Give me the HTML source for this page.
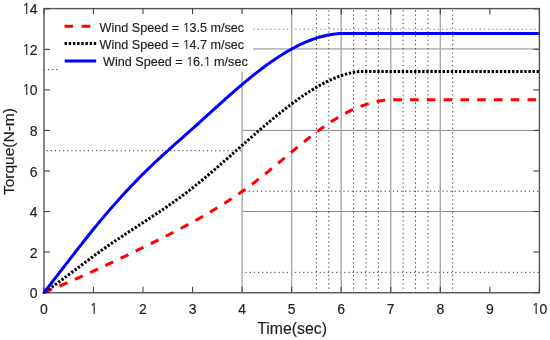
<!DOCTYPE html>
<html><head><meta charset="utf-8"><title>Torque vs Time</title><style>
html,body{margin:0;padding:0;background:#fff;width:550px;height:340px;overflow:hidden}
svg{display:block}
text{font-family:"Liberation Sans",Arial,Helvetica,sans-serif;fill:#1c1c1c;stroke:#1c1c1c;stroke-width:0.15px}
.o{font-family:"NanumGothic","Liberation Sans",sans-serif;letter-spacing:-0.05em}
</style></head><body>
<svg width="550" height="340" viewBox="0 0 550 340">
<rect width="550" height="340" fill="#fff"/>
<line x1="253.00" y1="29.20" x2="539.40" y2="29.20" stroke="#7a7a7a" stroke-width="1" stroke-dasharray="1.3 2.89" stroke-dashoffset="3.75"/>
<line x1="253.00" y1="48.95" x2="539.40" y2="48.95" stroke="#8c8c8c" stroke-width="1"/>
<line x1="44.00" y1="69.61" x2="58.50" y2="69.61" stroke="#404040" stroke-width="1" stroke-dasharray="1.3 2.85" stroke-dashoffset="0.25"/>
<line x1="242.10" y1="130.43" x2="539.40" y2="130.43" stroke="#8c8c8c" stroke-width="1"/>
<line x1="44.00" y1="150.70" x2="242.10" y2="150.70" stroke="#404040" stroke-width="1" stroke-dasharray="1.3 2.81" stroke-dashoffset="1.49"/>
<line x1="242.10" y1="191.24" x2="539.40" y2="191.24" stroke="#404040" stroke-width="1" stroke-dasharray="1.3 2.82" stroke-dashoffset="1.73"/>
<line x1="242.10" y1="211.51" x2="539.40" y2="211.51" stroke="#8c8c8c" stroke-width="1"/>
<line x1="242.10" y1="272.33" x2="539.40" y2="272.33" stroke="#404040" stroke-width="1" stroke-dasharray="1.3 2.81" stroke-dashoffset="0.63"/>
<line x1="242.10" y1="72.00" x2="242.10" y2="292.75" stroke="#a8a8a8" stroke-width="1.4"/>
<line x1="291.65" y1="8.60" x2="291.65" y2="292.75" stroke="#a8a8a8" stroke-width="1.4"/>
<line x1="341.20" y1="8.60" x2="341.20" y2="292.75" stroke="#a8a8a8" stroke-width="1.4"/>
<line x1="390.75" y1="8.60" x2="390.75" y2="292.75" stroke="#a8a8a8" stroke-width="1.4"/>
<line x1="440.30" y1="8.60" x2="440.30" y2="292.75" stroke="#a8a8a8" stroke-width="1.4"/>
<line x1="316.42" y1="8.60" x2="316.42" y2="292.75" stroke="#404040" stroke-width="1" stroke-dasharray="1.3 2.9" stroke-dashoffset="2.55"/>
<line x1="328.81" y1="8.60" x2="328.81" y2="292.75" stroke="#404040" stroke-width="1" stroke-dasharray="1.3 2.9" stroke-dashoffset="2.55"/>
<line x1="353.59" y1="8.60" x2="353.59" y2="292.75" stroke="#404040" stroke-width="1" stroke-dasharray="1.3 2.9" stroke-dashoffset="2.55"/>
<line x1="365.97" y1="8.60" x2="365.97" y2="292.75" stroke="#404040" stroke-width="1" stroke-dasharray="1.3 2.9" stroke-dashoffset="2.55"/>
<line x1="378.36" y1="8.60" x2="378.36" y2="292.75" stroke="#404040" stroke-width="1" stroke-dasharray="1.3 2.9" stroke-dashoffset="2.55"/>
<line x1="403.14" y1="8.60" x2="403.14" y2="292.75" stroke="#404040" stroke-width="1" stroke-dasharray="1.3 2.9" stroke-dashoffset="2.55"/>
<line x1="415.52" y1="8.60" x2="415.52" y2="292.75" stroke="#404040" stroke-width="1" stroke-dasharray="1.3 2.9" stroke-dashoffset="2.55"/>
<line x1="427.91" y1="8.60" x2="427.91" y2="292.75" stroke="#404040" stroke-width="1" stroke-dasharray="1.3 2.9" stroke-dashoffset="2.55"/>
<line x1="452.69" y1="8.60" x2="452.69" y2="292.75" stroke="#404040" stroke-width="1" stroke-dasharray="1.3 2.9" stroke-dashoffset="2.55"/>
<rect x="44.0" y="8.6" width="495.4" height="284.15" fill="none" stroke="#555555" stroke-width="1.4"/>
<line x1="43.90" y1="292.75" x2="43.90" y2="286.75" stroke="#444444" stroke-width="1.1"/>
<line x1="43.90" y1="8.6" x2="43.90" y2="14.6" stroke="#444444" stroke-width="1.1"/>
<line x1="93.45" y1="292.75" x2="93.45" y2="286.75" stroke="#444444" stroke-width="1.1"/>
<line x1="93.45" y1="8.6" x2="93.45" y2="14.6" stroke="#444444" stroke-width="1.1"/>
<line x1="143.00" y1="292.75" x2="143.00" y2="286.75" stroke="#444444" stroke-width="1.1"/>
<line x1="143.00" y1="8.6" x2="143.00" y2="14.6" stroke="#444444" stroke-width="1.1"/>
<line x1="192.55" y1="292.75" x2="192.55" y2="286.75" stroke="#444444" stroke-width="1.1"/>
<line x1="192.55" y1="8.6" x2="192.55" y2="14.6" stroke="#444444" stroke-width="1.1"/>
<line x1="242.10" y1="292.75" x2="242.10" y2="286.75" stroke="#444444" stroke-width="1.1"/>
<line x1="242.10" y1="8.6" x2="242.10" y2="14.6" stroke="#444444" stroke-width="1.1"/>
<line x1="291.65" y1="292.75" x2="291.65" y2="286.75" stroke="#444444" stroke-width="1.1"/>
<line x1="291.65" y1="8.6" x2="291.65" y2="14.6" stroke="#444444" stroke-width="1.1"/>
<line x1="341.20" y1="292.75" x2="341.20" y2="286.75" stroke="#444444" stroke-width="1.1"/>
<line x1="341.20" y1="8.6" x2="341.20" y2="14.6" stroke="#444444" stroke-width="1.1"/>
<line x1="390.75" y1="292.75" x2="390.75" y2="286.75" stroke="#444444" stroke-width="1.1"/>
<line x1="390.75" y1="8.6" x2="390.75" y2="14.6" stroke="#444444" stroke-width="1.1"/>
<line x1="440.30" y1="292.75" x2="440.30" y2="286.75" stroke="#444444" stroke-width="1.1"/>
<line x1="440.30" y1="8.6" x2="440.30" y2="14.6" stroke="#444444" stroke-width="1.1"/>
<line x1="489.85" y1="292.75" x2="489.85" y2="286.75" stroke="#444444" stroke-width="1.1"/>
<line x1="489.85" y1="8.6" x2="489.85" y2="14.6" stroke="#444444" stroke-width="1.1"/>
<line x1="539.40" y1="292.75" x2="539.40" y2="286.75" stroke="#444444" stroke-width="1.1"/>
<line x1="539.40" y1="8.6" x2="539.40" y2="14.6" stroke="#444444" stroke-width="1.1"/>
<line x1="44.0" y1="292.60" x2="50.0" y2="292.60" stroke="#444444" stroke-width="1.1"/>
<line x1="539.4" y1="292.60" x2="533.4" y2="292.60" stroke="#444444" stroke-width="1.1"/>
<line x1="44.0" y1="252.06" x2="50.0" y2="252.06" stroke="#444444" stroke-width="1.1"/>
<line x1="539.4" y1="252.06" x2="533.4" y2="252.06" stroke="#444444" stroke-width="1.1"/>
<line x1="44.0" y1="211.51" x2="50.0" y2="211.51" stroke="#444444" stroke-width="1.1"/>
<line x1="539.4" y1="211.51" x2="533.4" y2="211.51" stroke="#444444" stroke-width="1.1"/>
<line x1="44.0" y1="170.97" x2="50.0" y2="170.97" stroke="#444444" stroke-width="1.1"/>
<line x1="539.4" y1="170.97" x2="533.4" y2="170.97" stroke="#444444" stroke-width="1.1"/>
<line x1="44.0" y1="130.43" x2="50.0" y2="130.43" stroke="#444444" stroke-width="1.1"/>
<line x1="539.4" y1="130.43" x2="533.4" y2="130.43" stroke="#444444" stroke-width="1.1"/>
<line x1="44.0" y1="89.89" x2="50.0" y2="89.89" stroke="#444444" stroke-width="1.1"/>
<line x1="539.4" y1="89.89" x2="533.4" y2="89.89" stroke="#444444" stroke-width="1.1"/>
<line x1="44.0" y1="49.34" x2="50.0" y2="49.34" stroke="#444444" stroke-width="1.1"/>
<line x1="539.4" y1="49.34" x2="533.4" y2="49.34" stroke="#444444" stroke-width="1.1"/>
<line x1="44.0" y1="8.80" x2="50.0" y2="8.80" stroke="#444444" stroke-width="1.1"/>
<line x1="539.4" y1="8.80" x2="533.4" y2="8.80" stroke="#444444" stroke-width="1.1"/>
<path d="M44.00,292.50 L45.00,292.09 L46.00,291.69 L47.00,291.28 L48.00,290.87 L49.00,290.45 L50.00,290.04 L51.00,289.63 L52.00,289.21 L53.00,288.80 L54.00,288.38 L55.00,287.96 L56.00,287.54 L57.00,287.12 L58.00,286.70 L59.00,286.27 L60.00,285.85 L61.00,285.43 L62.00,285.00 L63.00,284.57 L64.00,284.14 L65.00,283.71 L66.00,283.28 L67.00,282.85 L68.00,282.42 L69.00,281.99 L70.00,281.55 L71.00,281.12 L72.00,280.68 L73.00,280.24 L74.00,279.80 L75.00,279.36 L76.00,278.92 L77.00,278.48 L78.00,278.04 L79.00,277.60 L80.00,277.15 L81.00,276.71 L82.00,276.26 L83.00,275.81 L84.00,275.36 L85.00,274.91 L86.00,274.46 L87.00,274.01 L88.00,273.56 L89.00,273.11 L90.00,272.66 L91.00,272.20 L92.00,271.75 L93.00,271.29 L94.00,270.83 L95.00,270.37 L96.00,269.91 L97.00,269.46 L98.00,268.99 L99.00,268.53 L100.00,268.07 L101.00,267.61 L102.00,267.14 L103.00,266.68 L104.00,266.21 L105.00,265.75 L106.00,265.28 L107.00,264.81 L108.00,264.34 L109.00,263.87 L110.00,263.40 L111.00,262.93 L112.00,262.46 L113.00,261.99 L114.00,261.52 L115.00,261.04 L116.00,260.57 L117.00,260.09 L118.00,259.61 L119.00,259.14 L120.00,258.66 L121.00,258.18 L122.00,257.70 L123.00,257.22 L124.00,256.74 L125.00,256.26 L126.00,255.78 L127.00,255.30 L128.00,254.82 L129.00,254.33 L130.00,253.85 L131.00,253.36 L132.00,252.88 L133.00,252.39 L134.00,251.90 L135.00,251.42 L136.00,250.93 L137.00,250.44 L138.00,249.95 L139.00,249.46 L140.00,248.97 L141.00,248.48 L142.00,247.99 L143.00,247.50 L144.00,247.01 L145.00,246.51 L146.00,246.02 L147.00,245.53 L148.00,245.03 L149.00,244.54 L150.00,244.04 L151.00,243.54 L152.00,243.05 L153.00,242.55 L154.00,242.05 L155.00,241.56 L156.00,241.06 L157.00,240.56 L158.00,240.06 L159.00,239.56 L160.00,239.06 L161.00,238.55 L162.00,238.05 L163.00,237.55 L164.00,237.05 L165.00,236.54 L166.00,236.03 L167.00,235.53 L168.00,235.02 L169.00,234.51 L170.00,234.00 L171.00,233.49 L172.00,232.98 L173.00,232.46 L174.00,231.95 L175.00,231.43 L176.00,230.91 L177.00,230.39 L178.00,229.87 L179.00,229.35 L180.00,228.83 L181.00,228.30 L182.00,227.77 L183.00,227.25 L184.00,226.72 L185.00,226.18 L186.00,225.65 L187.00,225.11 L188.00,224.58 L189.00,224.04 L190.00,223.50 L191.00,222.95 L192.00,222.41 L193.00,221.86 L194.00,221.31 L195.00,220.76 L196.00,220.20 L197.00,219.64 L198.00,219.09 L199.00,218.52 L200.00,217.96 L201.00,217.39 L202.00,216.83 L203.00,216.25 L204.00,215.68 L205.00,215.10 L206.00,214.52 L207.00,213.94 L208.00,213.36 L209.00,212.77 L210.00,212.18 L211.00,211.59 L212.00,210.99 L213.00,210.39 L214.00,209.79 L215.00,209.18 L216.00,208.58 L217.00,207.96 L218.00,207.35 L219.00,206.73 L220.00,206.11 L221.00,205.49 L222.00,204.86 L223.00,204.23 L224.00,203.59 L225.00,202.95 L226.00,202.31 L227.00,201.67 L228.00,201.02 L229.00,200.36 L230.00,199.71 L231.00,199.05 L232.00,198.38 L233.00,197.72 L234.00,197.04 L235.00,196.37 L236.00,195.69 L237.00,195.00 L238.00,194.32 L239.00,193.62 L240.00,192.93 L241.00,192.23 L242.00,191.52 L243.00,190.81 L244.00,190.10 L245.00,189.38 L246.00,188.66 L247.00,187.94 L248.00,187.21 L249.00,186.47 L250.00,185.73 L251.00,184.99 L252.00,184.24 L253.00,183.48 L254.00,182.72 L255.00,181.96 L256.00,181.19 L257.00,180.42 L258.00,179.64 L259.00,178.86 L260.00,178.07 L261.00,177.28 L262.00,176.49 L263.00,175.69 L264.00,174.89 L265.00,174.09 L266.00,173.28 L267.00,172.47 L268.00,171.66 L269.00,170.84 L270.00,170.02 L271.00,169.20 L272.00,168.38 L273.00,167.55 L274.00,166.73 L275.00,165.90 L276.00,165.07 L277.00,164.24 L278.00,163.41 L279.00,162.57 L280.00,161.74 L281.00,160.90 L282.00,160.07 L283.00,159.23 L284.00,158.39 L285.00,157.56 L286.00,156.72 L287.00,155.89 L288.00,155.05 L289.00,154.22 L290.00,153.38 L291.00,152.55 L292.00,151.72 L293.00,150.88 L294.00,150.06 L295.00,149.23 L296.00,148.40 L297.00,147.58 L298.00,146.75 L299.00,145.94 L300.00,145.12 L301.00,144.30 L302.00,143.49 L303.00,142.68 L304.00,141.87 L305.00,141.07 L306.00,140.27 L307.00,139.48 L308.00,138.68 L309.00,137.90 L310.00,137.11 L311.00,136.33 L312.00,135.55 L313.00,134.78 L314.00,134.02 L315.00,133.25 L316.00,132.50 L317.00,131.75 L318.00,131.00 L319.00,130.26 L320.00,129.52 L321.00,128.80 L322.00,128.07 L323.00,127.36 L324.00,126.64 L325.00,125.94 L326.00,125.24 L327.00,124.55 L328.00,123.87 L329.00,123.19 L330.00,122.52 L331.00,121.86 L332.00,121.21 L333.00,120.56 L334.00,119.92 L335.00,119.29 L336.00,118.67 L337.00,118.06 L338.00,117.45 L339.00,116.86 L340.00,116.27 L341.00,115.69 L342.00,115.12 L343.00,114.56 L344.00,114.01 L345.00,113.47 L346.00,112.94 L347.00,112.43 L348.00,111.92 L349.00,111.42 L350.00,110.93 L351.00,110.45 L352.00,109.98 L353.00,109.52 L354.00,109.08 L355.00,108.64 L356.00,108.21 L357.00,107.80 L358.00,107.39 L359.00,107.00 L360.00,106.61 L361.00,106.23 L362.00,105.87 L363.00,105.51 L364.00,105.16 L365.00,104.83 L366.00,104.50 L367.00,104.18 L368.00,103.88 L369.00,103.58 L370.00,103.29 L371.00,103.01 L372.00,102.74 L373.00,102.48 L374.00,102.23 L375.00,101.99 L376.00,101.76 L377.00,101.54 L378.00,101.32 L379.00,101.12 L380.00,100.92 L381.00,100.74 L382.00,100.56 L383.00,100.39 L384.00,100.23 L385.00,100.08 L386.00,99.94 L387.00,99.81 L388.00,99.80 L389.00,99.80 L390.00,99.80 L391.00,99.80 L392.00,99.80 L393.00,99.80 L394.00,99.80 L395.00,99.80 L396.00,99.80 L397.00,99.80 L398.00,99.80 L399.00,99.80 L400.00,99.80 L401.00,99.80 L402.00,99.80 L403.00,99.80 L404.00,99.80 L405.00,99.80 L406.00,99.80 L407.00,99.80 L408.00,99.80 L409.00,99.80 L410.00,99.80 L411.00,99.80 L412.00,99.80 L413.00,99.80 L414.00,99.80 L415.00,99.80 L416.00,99.80 L417.00,99.80 L418.00,99.80 L419.00,99.80 L420.00,99.80 L421.00,99.80 L422.00,99.80 L423.00,99.80 L424.00,99.80 L425.00,99.80 L426.00,99.80 L427.00,99.80 L428.00,99.80 L429.00,99.80 L430.00,99.80 L431.00,99.80 L432.00,99.80 L433.00,99.80 L434.00,99.80 L435.00,99.80 L436.00,99.80 L437.00,99.80 L438.00,99.80 L439.00,99.80 L440.00,99.80 L441.00,99.80 L442.00,99.80 L443.00,99.80 L444.00,99.80 L445.00,99.80 L446.00,99.80 L447.00,99.80 L448.00,99.80 L449.00,99.80 L450.00,99.80 L451.00,99.80 L452.00,99.80 L453.00,99.80 L454.00,99.80 L455.00,99.80 L456.00,99.80 L457.00,99.80 L458.00,99.80 L459.00,99.80 L460.00,99.80 L461.00,99.80 L462.00,99.80 L463.00,99.80 L464.00,99.80 L465.00,99.80 L466.00,99.80 L467.00,99.80 L468.00,99.80 L469.00,99.80 L470.00,99.80 L471.00,99.80 L472.00,99.80 L473.00,99.80 L474.00,99.80 L475.00,99.80 L476.00,99.80 L477.00,99.80 L478.00,99.80 L479.00,99.80 L480.00,99.80 L481.00,99.80 L482.00,99.80 L483.00,99.80 L484.00,99.80 L485.00,99.80 L486.00,99.80 L487.00,99.80 L488.00,99.80 L489.00,99.80 L490.00,99.80 L491.00,99.80 L492.00,99.80 L493.00,99.80 L494.00,99.80 L495.00,99.80 L496.00,99.80 L497.00,99.80 L498.00,99.80 L499.00,99.80 L500.00,99.80 L501.00,99.80 L502.00,99.80 L503.00,99.80 L504.00,99.80 L505.00,99.80 L506.00,99.80 L507.00,99.80 L508.00,99.80 L509.00,99.80 L510.00,99.80 L511.00,99.80 L512.00,99.80 L513.00,99.80 L514.00,99.80 L515.00,99.80 L516.00,99.80 L517.00,99.80 L518.00,99.80 L519.00,99.80 L520.00,99.80 L521.00,99.80 L522.00,99.80 L523.00,99.80 L524.00,99.80 L525.00,99.80 L526.00,99.80 L527.00,99.80 L528.00,99.80 L529.00,99.80 L530.00,99.80 L531.00,99.80 L532.00,99.80 L533.00,99.80 L534.00,99.80 L535.00,99.80 L536.00,99.80 L537.00,99.80 L538.00,99.80 L539.00,99.80 L539.40,99.80" fill="none" stroke="#ff0000" stroke-width="3" stroke-dasharray="8.6 8.18"/>
<path d="M44.00,292.50 L45.00,291.82 L46.00,291.14 L47.00,290.46 L48.00,289.76 L49.00,289.07 L50.00,288.37 L51.00,287.67 L52.00,286.96 L53.00,286.25 L54.00,285.54 L55.00,284.82 L56.00,284.10 L57.00,283.38 L58.00,282.65 L59.00,281.92 L60.00,281.19 L61.00,280.46 L62.00,279.72 L63.00,278.98 L64.00,278.24 L65.00,277.50 L66.00,276.76 L67.00,276.01 L68.00,275.26 L69.00,274.52 L70.00,273.77 L71.00,273.02 L72.00,272.26 L73.00,271.51 L74.00,270.76 L75.00,270.01 L76.00,269.25 L77.00,268.50 L78.00,267.75 L79.00,266.99 L80.00,266.24 L81.00,265.49 L82.00,264.74 L83.00,263.98 L84.00,263.23 L85.00,262.49 L86.00,261.74 L87.00,260.99 L88.00,260.24 L89.00,259.50 L90.00,258.76 L91.00,258.02 L92.00,257.28 L93.00,256.55 L94.00,255.81 L95.00,255.08 L96.00,254.35 L97.00,253.63 L98.00,252.91 L99.00,252.19 L100.00,251.47 L101.00,250.76 L102.00,250.05 L103.00,249.34 L104.00,248.64 L105.00,247.94 L106.00,247.24 L107.00,246.55 L108.00,245.85 L109.00,245.16 L110.00,244.48 L111.00,243.79 L112.00,243.11 L113.00,242.43 L114.00,241.76 L115.00,241.08 L116.00,240.41 L117.00,239.74 L118.00,239.07 L119.00,238.40 L120.00,237.73 L121.00,237.07 L122.00,236.41 L123.00,235.75 L124.00,235.08 L125.00,234.43 L126.00,233.77 L127.00,233.11 L128.00,232.46 L129.00,231.80 L130.00,231.15 L131.00,230.49 L132.00,229.84 L133.00,229.19 L134.00,228.54 L135.00,227.88 L136.00,227.23 L137.00,226.58 L138.00,225.93 L139.00,225.28 L140.00,224.63 L141.00,223.98 L142.00,223.32 L143.00,222.67 L144.00,222.02 L145.00,221.36 L146.00,220.71 L147.00,220.06 L148.00,219.40 L149.00,218.74 L150.00,218.08 L151.00,217.43 L152.00,216.77 L153.00,216.10 L154.00,215.44 L155.00,214.78 L156.00,214.11 L157.00,213.44 L158.00,212.77 L159.00,212.10 L160.00,211.43 L161.00,210.75 L162.00,210.08 L163.00,209.40 L164.00,208.72 L165.00,208.03 L166.00,207.35 L167.00,206.66 L168.00,205.96 L169.00,205.27 L170.00,204.57 L171.00,203.87 L172.00,203.17 L173.00,202.46 L174.00,201.75 L175.00,201.04 L176.00,200.32 L177.00,199.60 L178.00,198.88 L179.00,198.15 L180.00,197.42 L181.00,196.69 L182.00,195.95 L183.00,195.21 L184.00,194.46 L185.00,193.71 L186.00,192.95 L187.00,192.19 L188.00,191.43 L189.00,190.66 L190.00,189.89 L191.00,189.11 L192.00,188.33 L193.00,187.54 L194.00,186.75 L195.00,185.96 L196.00,185.16 L197.00,184.35 L198.00,183.54 L199.00,182.73 L200.00,181.92 L201.00,181.10 L202.00,180.27 L203.00,179.45 L204.00,178.62 L205.00,177.78 L206.00,176.95 L207.00,176.11 L208.00,175.26 L209.00,174.42 L210.00,173.57 L211.00,172.72 L212.00,171.86 L213.00,171.01 L214.00,170.15 L215.00,169.28 L216.00,168.42 L217.00,167.55 L218.00,166.69 L219.00,165.82 L220.00,164.94 L221.00,164.07 L222.00,163.20 L223.00,162.32 L224.00,161.44 L225.00,160.56 L226.00,159.68 L227.00,158.80 L228.00,157.91 L229.00,157.03 L230.00,156.14 L231.00,155.26 L232.00,154.37 L233.00,153.49 L234.00,152.60 L235.00,151.71 L236.00,150.82 L237.00,149.93 L238.00,149.04 L239.00,148.16 L240.00,147.27 L241.00,146.38 L242.00,145.49 L243.00,144.60 L244.00,143.72 L245.00,142.83 L246.00,141.94 L247.00,141.06 L248.00,140.17 L249.00,139.29 L250.00,138.41 L251.00,137.53 L252.00,136.65 L253.00,135.77 L254.00,134.89 L255.00,134.02 L256.00,133.15 L257.00,132.27 L258.00,131.40 L259.00,130.54 L260.00,129.67 L261.00,128.81 L262.00,127.95 L263.00,127.09 L264.00,126.23 L265.00,125.38 L266.00,124.53 L267.00,123.68 L268.00,122.83 L269.00,121.99 L270.00,121.15 L271.00,120.31 L272.00,119.48 L273.00,118.65 L274.00,117.83 L275.00,117.00 L276.00,116.18 L277.00,115.37 L278.00,114.56 L279.00,113.75 L280.00,112.95 L281.00,112.15 L282.00,111.35 L283.00,110.56 L284.00,109.78 L285.00,109.00 L286.00,108.22 L287.00,107.45 L288.00,106.68 L289.00,105.92 L290.00,105.16 L291.00,104.41 L292.00,103.66 L293.00,102.92 L294.00,102.18 L295.00,101.45 L296.00,100.73 L297.00,100.01 L298.00,99.29 L299.00,98.59 L300.00,97.88 L301.00,97.19 L302.00,96.50 L303.00,95.82 L304.00,95.14 L305.00,94.47 L306.00,93.81 L307.00,93.15 L308.00,92.50 L309.00,91.86 L310.00,91.22 L311.00,90.59 L312.00,89.97 L313.00,89.36 L314.00,88.75 L315.00,88.15 L316.00,87.56 L317.00,86.98 L318.00,86.40 L319.00,85.84 L320.00,85.28 L321.00,84.73 L322.00,84.19 L323.00,83.65 L324.00,83.13 L325.00,82.62 L326.00,82.11 L327.00,81.61 L328.00,81.13 L329.00,80.65 L330.00,80.18 L331.00,79.73 L332.00,79.28 L333.00,78.84 L334.00,78.42 L335.00,78.00 L336.00,77.59 L337.00,77.20 L338.00,76.82 L339.00,76.44 L340.00,76.08 L341.00,75.73 L342.00,75.39 L343.00,75.07 L344.00,74.75 L345.00,74.45 L346.00,74.15 L347.00,73.88 L348.00,73.61 L349.00,73.35 L350.00,73.11 L351.00,72.88 L352.00,72.67 L353.00,72.46 L354.00,72.27 L355.00,72.09 L356.00,71.93 L357.00,71.78 L358.00,71.64 L359.00,71.52 L360.00,71.41 L361.00,71.40 L362.00,71.40 L363.00,71.40 L364.00,71.40 L365.00,71.40 L366.00,71.40 L367.00,71.40 L368.00,71.40 L369.00,71.40 L370.00,71.40 L371.00,71.40 L372.00,71.40 L373.00,71.40 L374.00,71.40 L375.00,71.40 L376.00,71.40 L377.00,71.40 L378.00,71.40 L379.00,71.40 L380.00,71.40 L381.00,71.40 L382.00,71.40 L383.00,71.40 L384.00,71.40 L385.00,71.40 L386.00,71.40 L387.00,71.40 L388.00,71.40 L389.00,71.40 L390.00,71.40 L391.00,71.40 L392.00,71.40 L393.00,71.40 L394.00,71.40 L395.00,71.40 L396.00,71.40 L397.00,71.40 L398.00,71.40 L399.00,71.40 L400.00,71.40 L401.00,71.40 L402.00,71.40 L403.00,71.40 L404.00,71.40 L405.00,71.40 L406.00,71.40 L407.00,71.40 L408.00,71.40 L409.00,71.40 L410.00,71.40 L411.00,71.40 L412.00,71.40 L413.00,71.40 L414.00,71.40 L415.00,71.40 L416.00,71.40 L417.00,71.40 L418.00,71.40 L419.00,71.40 L420.00,71.40 L421.00,71.40 L422.00,71.40 L423.00,71.40 L424.00,71.40 L425.00,71.40 L426.00,71.40 L427.00,71.40 L428.00,71.40 L429.00,71.40 L430.00,71.40 L431.00,71.40 L432.00,71.40 L433.00,71.40 L434.00,71.40 L435.00,71.40 L436.00,71.40 L437.00,71.40 L438.00,71.40 L439.00,71.40 L440.00,71.40 L441.00,71.40 L442.00,71.40 L443.00,71.40 L444.00,71.40 L445.00,71.40 L446.00,71.40 L447.00,71.40 L448.00,71.40 L449.00,71.40 L450.00,71.40 L451.00,71.40 L452.00,71.40 L453.00,71.40 L454.00,71.40 L455.00,71.40 L456.00,71.40 L457.00,71.40 L458.00,71.40 L459.00,71.40 L460.00,71.40 L461.00,71.40 L462.00,71.40 L463.00,71.40 L464.00,71.40 L465.00,71.40 L466.00,71.40 L467.00,71.40 L468.00,71.40 L469.00,71.40 L470.00,71.40 L471.00,71.40 L472.00,71.40 L473.00,71.40 L474.00,71.40 L475.00,71.40 L476.00,71.40 L477.00,71.40 L478.00,71.40 L479.00,71.40 L480.00,71.40 L481.00,71.40 L482.00,71.40 L483.00,71.40 L484.00,71.40 L485.00,71.40 L486.00,71.40 L487.00,71.40 L488.00,71.40 L489.00,71.40 L490.00,71.40 L491.00,71.40 L492.00,71.40 L493.00,71.40 L494.00,71.40 L495.00,71.40 L496.00,71.40 L497.00,71.40 L498.00,71.40 L499.00,71.40 L500.00,71.40 L501.00,71.40 L502.00,71.40 L503.00,71.40 L504.00,71.40 L505.00,71.40 L506.00,71.40 L507.00,71.40 L508.00,71.40 L509.00,71.40 L510.00,71.40 L511.00,71.40 L512.00,71.40 L513.00,71.40 L514.00,71.40 L515.00,71.40 L516.00,71.40 L517.00,71.40 L518.00,71.40 L519.00,71.40 L520.00,71.40 L521.00,71.40 L522.00,71.40 L523.00,71.40 L524.00,71.40 L525.00,71.40 L526.00,71.40 L527.00,71.40 L528.00,71.40 L529.00,71.40 L530.00,71.40 L531.00,71.40 L532.00,71.40 L533.00,71.40 L534.00,71.40 L535.00,71.40 L536.00,71.40 L537.00,71.40 L538.00,71.40 L539.00,71.40 L539.40,71.40" fill="none" stroke="#000" stroke-width="3" stroke-dasharray="2.4 1.685" stroke-dashoffset="3.0"/>
<path d="M44.00,292.50 L45.00,291.23 L46.00,289.95 L47.00,288.67 L48.00,287.39 L49.00,286.11 L50.00,284.83 L51.00,283.54 L52.00,282.25 L53.00,280.96 L54.00,279.67 L55.00,278.38 L56.00,277.09 L57.00,275.80 L58.00,274.50 L59.00,273.21 L60.00,271.91 L61.00,270.62 L62.00,269.32 L63.00,268.02 L64.00,266.73 L65.00,265.43 L66.00,264.14 L67.00,262.84 L68.00,261.55 L69.00,260.26 L70.00,258.96 L71.00,257.67 L72.00,256.38 L73.00,255.09 L74.00,253.80 L75.00,252.52 L76.00,251.23 L77.00,249.95 L78.00,248.67 L79.00,247.39 L80.00,246.11 L81.00,244.84 L82.00,243.56 L83.00,242.30 L84.00,241.03 L85.00,239.76 L86.00,238.50 L87.00,237.25 L88.00,235.99 L89.00,234.74 L90.00,233.49 L91.00,232.25 L92.00,231.01 L93.00,229.77 L94.00,228.54 L95.00,227.31 L96.00,226.09 L97.00,224.87 L98.00,223.66 L99.00,222.45 L100.00,221.24 L101.00,220.04 L102.00,218.85 L103.00,217.66 L104.00,216.47 L105.00,215.29 L106.00,214.12 L107.00,212.95 L108.00,211.78 L109.00,210.62 L110.00,209.47 L111.00,208.31 L112.00,207.17 L113.00,206.03 L114.00,204.89 L115.00,203.76 L116.00,202.64 L117.00,201.52 L118.00,200.40 L119.00,199.29 L120.00,198.18 L121.00,197.08 L122.00,195.98 L123.00,194.89 L124.00,193.80 L125.00,192.72 L126.00,191.64 L127.00,190.57 L128.00,189.50 L129.00,188.44 L130.00,187.38 L131.00,186.33 L132.00,185.28 L133.00,184.24 L134.00,183.20 L135.00,182.16 L136.00,181.13 L137.00,180.11 L138.00,179.08 L139.00,178.07 L140.00,177.06 L141.00,176.05 L142.00,175.05 L143.00,174.05 L144.00,173.06 L145.00,172.07 L146.00,171.09 L147.00,170.11 L148.00,169.13 L149.00,168.16 L150.00,167.20 L151.00,166.24 L152.00,165.28 L153.00,164.33 L154.00,163.38 L155.00,162.44 L156.00,161.50 L157.00,160.57 L158.00,159.64 L159.00,158.71 L160.00,157.79 L161.00,156.86 L162.00,155.95 L163.00,155.03 L164.00,154.12 L165.00,153.21 L166.00,152.31 L167.00,151.40 L168.00,150.50 L169.00,149.60 L170.00,148.71 L171.00,147.81 L172.00,146.92 L173.00,146.02 L174.00,145.13 L175.00,144.24 L176.00,143.36 L177.00,142.47 L178.00,141.58 L179.00,140.69 L180.00,139.81 L181.00,138.92 L182.00,138.04 L183.00,137.15 L184.00,136.27 L185.00,135.38 L186.00,134.49 L187.00,133.61 L188.00,132.72 L189.00,131.83 L190.00,130.94 L191.00,130.05 L192.00,129.16 L193.00,128.26 L194.00,127.37 L195.00,126.47 L196.00,125.57 L197.00,124.67 L198.00,123.77 L199.00,122.87 L200.00,121.97 L201.00,121.06 L202.00,120.16 L203.00,119.25 L204.00,118.35 L205.00,117.44 L206.00,116.53 L207.00,115.62 L208.00,114.72 L209.00,113.81 L210.00,112.90 L211.00,112.00 L212.00,111.09 L213.00,110.18 L214.00,109.28 L215.00,108.37 L216.00,107.47 L217.00,106.56 L218.00,105.66 L219.00,104.76 L220.00,103.86 L221.00,102.96 L222.00,102.06 L223.00,101.16 L224.00,100.27 L225.00,99.38 L226.00,98.49 L227.00,97.60 L228.00,96.71 L229.00,95.82 L230.00,94.94 L231.00,94.06 L232.00,93.18 L233.00,92.31 L234.00,91.44 L235.00,90.57 L236.00,89.70 L237.00,88.84 L238.00,87.98 L239.00,87.12 L240.00,86.27 L241.00,85.41 L242.00,84.57 L243.00,83.73 L244.00,82.89 L245.00,82.05 L246.00,81.22 L247.00,80.39 L248.00,79.57 L249.00,78.75 L250.00,77.94 L251.00,77.13 L252.00,76.32 L253.00,75.52 L254.00,74.72 L255.00,73.93 L256.00,73.14 L257.00,72.36 L258.00,71.59 L259.00,70.81 L260.00,70.05 L261.00,69.29 L262.00,68.53 L263.00,67.78 L264.00,67.04 L265.00,66.30 L266.00,65.56 L267.00,64.84 L268.00,64.12 L269.00,63.40 L270.00,62.69 L271.00,61.99 L272.00,61.29 L273.00,60.60 L274.00,59.92 L275.00,59.24 L276.00,58.57 L277.00,57.90 L278.00,57.25 L279.00,56.60 L280.00,55.95 L281.00,55.32 L282.00,54.69 L283.00,54.07 L284.00,53.45 L285.00,52.85 L286.00,52.25 L287.00,51.66 L288.00,51.07 L289.00,50.50 L290.00,49.93 L291.00,49.37 L292.00,48.82 L293.00,48.27 L294.00,47.74 L295.00,47.21 L296.00,46.69 L297.00,46.18 L298.00,45.68 L299.00,45.19 L300.00,44.70 L301.00,44.23 L302.00,43.76 L303.00,43.31 L304.00,42.86 L305.00,42.42 L306.00,41.99 L307.00,41.57 L308.00,41.16 L309.00,40.76 L310.00,40.37 L311.00,39.99 L312.00,39.62 L313.00,39.26 L314.00,38.91 L315.00,38.56 L316.00,38.23 L317.00,37.91 L318.00,37.60 L319.00,37.30 L320.00,37.02 L321.00,36.74 L322.00,36.47 L323.00,36.21 L324.00,35.97 L325.00,35.73 L326.00,35.51 L327.00,35.30 L328.00,35.10 L329.00,34.91 L330.00,34.73 L331.00,34.56 L332.00,34.41 L333.00,34.26 L334.00,34.13 L335.00,34.00 L336.00,33.89 L337.00,33.79 L338.00,33.69 L339.00,33.60 L340.00,33.60 L341.00,33.60 L342.00,33.60 L343.00,33.60 L344.00,33.60 L345.00,33.60 L346.00,33.60 L347.00,33.60 L348.00,33.60 L349.00,33.60 L350.00,33.60 L351.00,33.60 L352.00,33.60 L353.00,33.60 L354.00,33.60 L355.00,33.60 L356.00,33.60 L357.00,33.60 L358.00,33.60 L359.00,33.60 L360.00,33.60 L361.00,33.60 L362.00,33.60 L363.00,33.60 L364.00,33.60 L365.00,33.60 L366.00,33.60 L367.00,33.60 L368.00,33.60 L369.00,33.60 L370.00,33.60 L371.00,33.60 L372.00,33.60 L373.00,33.60 L374.00,33.60 L375.00,33.60 L376.00,33.60 L377.00,33.60 L378.00,33.60 L379.00,33.60 L380.00,33.60 L381.00,33.60 L382.00,33.60 L383.00,33.60 L384.00,33.60 L385.00,33.60 L386.00,33.60 L387.00,33.60 L388.00,33.60 L389.00,33.60 L390.00,33.60 L391.00,33.60 L392.00,33.60 L393.00,33.60 L394.00,33.60 L395.00,33.60 L396.00,33.60 L397.00,33.60 L398.00,33.60 L399.00,33.60 L400.00,33.60 L401.00,33.60 L402.00,33.60 L403.00,33.60 L404.00,33.60 L405.00,33.60 L406.00,33.60 L407.00,33.60 L408.00,33.60 L409.00,33.60 L410.00,33.60 L411.00,33.60 L412.00,33.60 L413.00,33.60 L414.00,33.60 L415.00,33.60 L416.00,33.60 L417.00,33.60 L418.00,33.60 L419.00,33.60 L420.00,33.60 L421.00,33.60 L422.00,33.60 L423.00,33.60 L424.00,33.60 L425.00,33.60 L426.00,33.60 L427.00,33.60 L428.00,33.60 L429.00,33.60 L430.00,33.60 L431.00,33.60 L432.00,33.60 L433.00,33.60 L434.00,33.60 L435.00,33.60 L436.00,33.60 L437.00,33.60 L438.00,33.60 L439.00,33.60 L440.00,33.60 L441.00,33.60 L442.00,33.60 L443.00,33.60 L444.00,33.60 L445.00,33.60 L446.00,33.60 L447.00,33.60 L448.00,33.60 L449.00,33.60 L450.00,33.60 L451.00,33.60 L452.00,33.60 L453.00,33.60 L454.00,33.60 L455.00,33.60 L456.00,33.60 L457.00,33.60 L458.00,33.60 L459.00,33.60 L460.00,33.60 L461.00,33.60 L462.00,33.60 L463.00,33.60 L464.00,33.60 L465.00,33.60 L466.00,33.60 L467.00,33.60 L468.00,33.60 L469.00,33.60 L470.00,33.60 L471.00,33.60 L472.00,33.60 L473.00,33.60 L474.00,33.60 L475.00,33.60 L476.00,33.60 L477.00,33.60 L478.00,33.60 L479.00,33.60 L480.00,33.60 L481.00,33.60 L482.00,33.60 L483.00,33.60 L484.00,33.60 L485.00,33.60 L486.00,33.60 L487.00,33.60 L488.00,33.60 L489.00,33.60 L490.00,33.60 L491.00,33.60 L492.00,33.60 L493.00,33.60 L494.00,33.60 L495.00,33.60 L496.00,33.60 L497.00,33.60 L498.00,33.60 L499.00,33.60 L500.00,33.60 L501.00,33.60 L502.00,33.60 L503.00,33.60 L504.00,33.60 L505.00,33.60 L506.00,33.60 L507.00,33.60 L508.00,33.60 L509.00,33.60 L510.00,33.60 L511.00,33.60 L512.00,33.60 L513.00,33.60 L514.00,33.60 L515.00,33.60 L516.00,33.60 L517.00,33.60 L518.00,33.60 L519.00,33.60 L520.00,33.60 L521.00,33.60 L522.00,33.60 L523.00,33.60 L524.00,33.60 L525.00,33.60 L526.00,33.60 L527.00,33.60 L528.00,33.60 L529.00,33.60 L530.00,33.60 L531.00,33.60 L532.00,33.60 L533.00,33.60 L534.00,33.60 L535.00,33.60 L536.00,33.60 L537.00,33.60 L538.00,33.60" fill="none" stroke="#0000ff" stroke-width="3" stroke-linecap="round"/>
<text x="43.90" y="313.8" font-size="14" text-anchor="middle">0</text>
<text x="93.45" y="313.8" font-size="14" text-anchor="middle"><tspan class="o">1</tspan></text>
<text x="143.00" y="313.8" font-size="14" text-anchor="middle">2</text>
<text x="192.55" y="313.8" font-size="14" text-anchor="middle">3</text>
<text x="242.10" y="313.8" font-size="14" text-anchor="middle">4</text>
<text x="291.65" y="313.8" font-size="14" text-anchor="middle">5</text>
<text x="341.20" y="313.8" font-size="14" text-anchor="middle">6</text>
<text x="390.75" y="313.8" font-size="14" text-anchor="middle">7</text>
<text x="440.30" y="313.8" font-size="14" text-anchor="middle">8</text>
<text x="489.85" y="313.8" font-size="14" text-anchor="middle">9</text>
<text x="539.40" y="313.8" font-size="14" text-anchor="middle"><tspan class="o">1</tspan>0</text>
<text x="37.6" y="298.20" font-size="14" text-anchor="end">0</text>
<text x="37.6" y="257.66" font-size="14" text-anchor="end">2</text>
<text x="37.6" y="217.11" font-size="14" text-anchor="end">4</text>
<text x="37.6" y="176.57" font-size="14" text-anchor="end">6</text>
<text x="37.6" y="136.03" font-size="14" text-anchor="end">8</text>
<text x="37.6" y="95.49" font-size="14" text-anchor="end"><tspan class="o">1</tspan>0</text>
<text x="37.6" y="54.94" font-size="14" text-anchor="end"><tspan class="o">1</tspan>2</text>
<text x="37.6" y="14.40" font-size="14" text-anchor="end"><tspan class="o">1</tspan>4</text>
<text x="292.1" y="334.4" font-size="15.8" text-anchor="middle">Time(sec)</text>
<text transform="translate(13.7,151.6) rotate(-90)" font-size="15.5" text-anchor="middle">Torque(N-m)</text>
<rect x="58.5" y="14" width="194.5" height="58" fill="#fff"/>
<line x1="64.5" y1="26.2" x2="90.3" y2="26.2" stroke="#ff0000" stroke-width="3" stroke-dasharray="8.6 8.6"/>
<line x1="64.6" y1="43.5" x2="97" y2="43.5" stroke="#000" stroke-width="3" stroke-dasharray="2.4 1.77"/>
<line x1="64.7" y1="60.9" x2="96.2" y2="60.9" stroke="#0000ff" stroke-width="3"/>
<text x="99.6" y="31.6" font-size="12.6">Wind Speed = <tspan class="o">1</tspan>3.5 m/sec</text>
<text x="99.6" y="48.5" font-size="12.6">Wind Speed = <tspan class="o">1</tspan>4.7 m/sec</text>
<text x="103.1" y="65.5" font-size="12.6">Wind Speed = <tspan class="o">1</tspan>6.<tspan class="o">1</tspan> m/sec</text>
</svg>
</body></html>
